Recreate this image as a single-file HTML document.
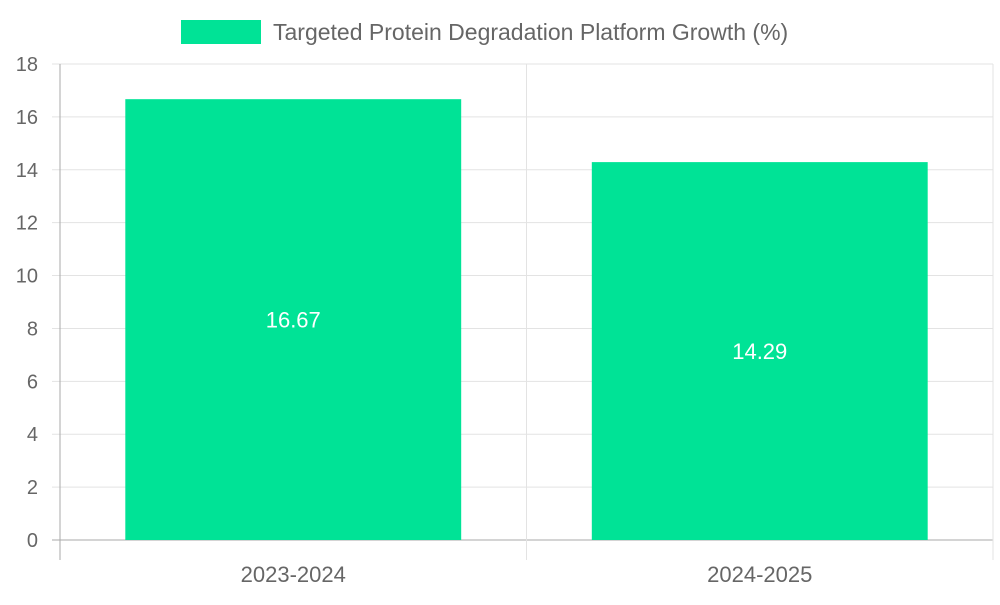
<!DOCTYPE html>
<html><head><meta charset="utf-8"><style>
body{margin:0;background:#fff;}
svg text{font-family:"Liberation Sans",sans-serif;}
</style></head><body>
<svg id="chart" width="1000" height="600">
<g id="grid"></g>
<g id="bars"></g>
<g id="legend">
<rect x="181" y="20" width="80" height="24" fill="#00e396"/>
<text x="273" y="40" font-size="23" fill="#666">Targeted Protein Degradation Platform Growth (%)</text>
</g>
</svg>
<script>
const categories=["2023-2024","2024-2025"];
const values=[16.67,14.29];
const yTicks=[0,2,4,6,8,10,12,14,16,18];
const L=60,R=993,T=64,B=540,yMax=18;
const ns="http://www.w3.org/2000/svg";
const y=v=>B-(v/yMax)*(B-T);
const cw=(R-L)/categories.length;
const x=i=>L+cw*i;
const grid=document.getElementById('grid'),bars=document.getElementById('bars');
function mk(tag,attrs,parent){const e=document.createElementNS(ns,tag);for(const k in attrs)e.setAttribute(k,attrs[k]);parent.appendChild(e);return e;}
yTicks.forEach(t=>{
  const l=mk('line',{x1:52,x2:R,y1:y(t),y2:y(t),stroke:t===0?'#aaa':'#e3e3e3','stroke-width':1},grid);
  
  
  const tx=mk('text',{x:38,y:y(t)+7,'text-anchor':'end','font-size':20,fill:'#666'},grid);
  tx.textContent=t;
  
  
});
for(let i=0;i<=categories.length;i++){
  const l=mk('line',{x1:x(i),x2:x(i),y1:T,y2:560,stroke:i===0?'#aaa':'#e3e3e3','stroke-width':1},grid);
  
  
}
categories.forEach((c,i)=>{
  const bw=cw*0.72,cx=x(i)+cw/2;
  const r=mk('rect',{x:cx-bw/2,y:y(values[i]),width:bw,height:B-y(values[i]),fill:'#00e396'},bars);
  
  
  const v=mk('text',{x:cx,y:(y(values[i])+B)/2+8,'text-anchor':'middle','font-size':22,fill:'#fff'},bars);
  v.textContent=values[i];
  
  
  const lb=mk('text',{x:cx,y:582,'text-anchor':'middle','font-size':22,fill:'#666'},bars);
  lb.textContent=c;
  
  
});
</script>
</body></html>
